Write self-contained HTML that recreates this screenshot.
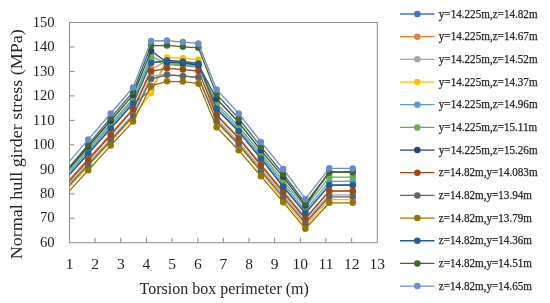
<!DOCTYPE html><html><head><meta charset="utf-8"><style>html,body{margin:0;padding:0;background:#fff;}body{width:550px;height:303px;overflow:hidden;}svg{display:block;}text{font-family:"Liberation Serif",serif;fill:#262626;}</style></head><body>
<svg width="550" height="303" viewBox="0 0 550 303">
<rect width="550" height="303" fill="#fff"/>
<defs><clipPath id="pc"><rect x="69.5" y="0" width="347.8" height="303"/></clipPath></defs>
<rect x="69.5" y="22.5" width="307.8" height="220.2" fill="none" stroke="#8C8C8C" stroke-width="1"/>
<text x="54.7" y="246.90" font-size="15.6" text-anchor="end" textLength="14.7" lengthAdjust="spacingAndGlyphs">60</text>
<line x1="69.5" y1="218.23" x2="74.5" y2="218.23" stroke="#8C8C8C" stroke-width="1"/>
<text x="54.7" y="222.43" font-size="15.6" text-anchor="end" textLength="14.7" lengthAdjust="spacingAndGlyphs">70</text>
<line x1="69.5" y1="193.77" x2="74.5" y2="193.77" stroke="#8C8C8C" stroke-width="1"/>
<text x="54.7" y="197.97" font-size="15.6" text-anchor="end" textLength="14.7" lengthAdjust="spacingAndGlyphs">80</text>
<line x1="69.5" y1="169.30" x2="74.5" y2="169.30" stroke="#8C8C8C" stroke-width="1"/>
<text x="54.7" y="173.50" font-size="15.6" text-anchor="end" textLength="14.7" lengthAdjust="spacingAndGlyphs">90</text>
<line x1="69.5" y1="144.83" x2="74.5" y2="144.83" stroke="#8C8C8C" stroke-width="1"/>
<text x="54.7" y="149.03" font-size="15.6" text-anchor="end" textLength="22.0" lengthAdjust="spacingAndGlyphs">100</text>
<line x1="69.5" y1="120.37" x2="74.5" y2="120.37" stroke="#8C8C8C" stroke-width="1"/>
<text x="54.7" y="124.57" font-size="15.6" text-anchor="end" textLength="22.0" lengthAdjust="spacingAndGlyphs">110</text>
<line x1="69.5" y1="95.90" x2="74.5" y2="95.90" stroke="#8C8C8C" stroke-width="1"/>
<text x="54.7" y="100.10" font-size="15.6" text-anchor="end" textLength="22.0" lengthAdjust="spacingAndGlyphs">120</text>
<line x1="69.5" y1="71.43" x2="74.5" y2="71.43" stroke="#8C8C8C" stroke-width="1"/>
<text x="54.7" y="75.63" font-size="15.6" text-anchor="end" textLength="22.0" lengthAdjust="spacingAndGlyphs">130</text>
<line x1="69.5" y1="46.97" x2="74.5" y2="46.97" stroke="#8C8C8C" stroke-width="1"/>
<text x="54.7" y="51.17" font-size="15.6" text-anchor="end" textLength="22.0" lengthAdjust="spacingAndGlyphs">140</text>
<text x="54.7" y="26.70" font-size="15.6" text-anchor="end" textLength="22.0" lengthAdjust="spacingAndGlyphs">150</text>
<text x="69.50" y="269.20" font-size="15.5" text-anchor="middle">1</text>
<line x1="95.15" y1="242.7" x2="95.15" y2="237.7" stroke="#8C8C8C" stroke-width="1"/>
<text x="95.15" y="269.20" font-size="15.5" text-anchor="middle">2</text>
<line x1="120.80" y1="242.7" x2="120.80" y2="237.7" stroke="#8C8C8C" stroke-width="1"/>
<text x="120.80" y="269.20" font-size="15.5" text-anchor="middle">3</text>
<line x1="146.45" y1="242.7" x2="146.45" y2="237.7" stroke="#8C8C8C" stroke-width="1"/>
<text x="146.45" y="269.20" font-size="15.5" text-anchor="middle">4</text>
<line x1="172.10" y1="242.7" x2="172.10" y2="237.7" stroke="#8C8C8C" stroke-width="1"/>
<text x="172.10" y="269.20" font-size="15.5" text-anchor="middle">5</text>
<line x1="197.75" y1="242.7" x2="197.75" y2="237.7" stroke="#8C8C8C" stroke-width="1"/>
<text x="197.75" y="269.20" font-size="15.5" text-anchor="middle">6</text>
<line x1="223.40" y1="242.7" x2="223.40" y2="237.7" stroke="#8C8C8C" stroke-width="1"/>
<text x="223.40" y="269.20" font-size="15.5" text-anchor="middle">7</text>
<line x1="249.05" y1="242.7" x2="249.05" y2="237.7" stroke="#8C8C8C" stroke-width="1"/>
<text x="249.05" y="269.20" font-size="15.5" text-anchor="middle">8</text>
<line x1="274.70" y1="242.7" x2="274.70" y2="237.7" stroke="#8C8C8C" stroke-width="1"/>
<text x="274.70" y="269.20" font-size="15.5" text-anchor="middle">9</text>
<line x1="300.35" y1="242.7" x2="300.35" y2="237.7" stroke="#8C8C8C" stroke-width="1"/>
<text x="300.35" y="269.20" font-size="15.5" text-anchor="middle">10</text>
<line x1="326.00" y1="242.7" x2="326.00" y2="237.7" stroke="#8C8C8C" stroke-width="1"/>
<text x="326.00" y="269.20" font-size="15.5" text-anchor="middle">11</text>
<line x1="351.65" y1="242.7" x2="351.65" y2="237.7" stroke="#8C8C8C" stroke-width="1"/>
<text x="351.65" y="269.20" font-size="15.5" text-anchor="middle">12</text>
<text x="377.30" y="269.20" font-size="15.5" text-anchor="middle">13</text>
<text x="139.6" y="293.5" font-size="16" textLength="169.3" lengthAdjust="spacingAndGlyphs">Torsion box perimeter (m)</text>
<text transform="translate(22.4,259.2) rotate(-90)" font-size="16" textLength="230" lengthAdjust="spacingAndGlyphs">Normal hull girder stress (MPa)</text>
<g clip-path="url(#pc)">
<polyline points="65.70,178.90 88.20,153.80 110.70,128.70 133.10,103.70 151.10,90.00 167.00,61.50 182.90,62.00 198.40,64.00 216.60,109.20 238.70,131.60 260.90,158.70 283.20,186.80 305.40,213.40 329.30,185.40 352.80,185.40" fill="none" stroke="#4472C4" stroke-width="1.3" stroke-linejoin="round"/>
<circle cx="88.20" cy="153.80" r="3.25" fill="#4472C4"/>
<circle cx="110.70" cy="128.70" r="3.25" fill="#4472C4"/>
<circle cx="133.10" cy="103.70" r="3.25" fill="#4472C4"/>
<circle cx="151.10" cy="90.00" r="3.25" fill="#4472C4"/>
<circle cx="167.00" cy="61.50" r="3.25" fill="#4472C4"/>
<circle cx="182.90" cy="62.00" r="3.25" fill="#4472C4"/>
<circle cx="198.40" cy="64.00" r="3.25" fill="#4472C4"/>
<circle cx="216.60" cy="109.20" r="3.25" fill="#4472C4"/>
<circle cx="238.70" cy="131.60" r="3.25" fill="#4472C4"/>
<circle cx="260.90" cy="158.70" r="3.25" fill="#4472C4"/>
<circle cx="283.20" cy="186.80" r="3.25" fill="#4472C4"/>
<circle cx="305.40" cy="213.40" r="3.25" fill="#4472C4"/>
<circle cx="329.30" cy="185.40" r="3.25" fill="#4472C4"/>
<circle cx="352.80" cy="185.40" r="3.25" fill="#4472C4"/>
<polyline points="65.70,183.60 88.20,158.80 110.70,134.00 133.10,108.50 151.10,69.00 167.00,61.00 182.90,61.80 198.40,63.60 216.60,114.50 238.70,137.50 260.90,164.20 283.20,191.00 305.40,218.00 329.30,190.80 352.80,190.80" fill="none" stroke="#ED7D31" stroke-width="1.3" stroke-linejoin="round"/>
<circle cx="88.20" cy="158.80" r="3.25" fill="#ED7D31"/>
<circle cx="110.70" cy="134.00" r="3.25" fill="#ED7D31"/>
<circle cx="133.10" cy="108.50" r="3.25" fill="#ED7D31"/>
<circle cx="151.10" cy="69.00" r="3.25" fill="#ED7D31"/>
<circle cx="167.00" cy="61.00" r="3.25" fill="#ED7D31"/>
<circle cx="182.90" cy="61.80" r="3.25" fill="#ED7D31"/>
<circle cx="198.40" cy="63.60" r="3.25" fill="#ED7D31"/>
<circle cx="216.60" cy="114.50" r="3.25" fill="#ED7D31"/>
<circle cx="238.70" cy="137.50" r="3.25" fill="#ED7D31"/>
<circle cx="260.90" cy="164.20" r="3.25" fill="#ED7D31"/>
<circle cx="283.20" cy="191.00" r="3.25" fill="#ED7D31"/>
<circle cx="305.40" cy="218.00" r="3.25" fill="#ED7D31"/>
<circle cx="329.30" cy="190.80" r="3.25" fill="#ED7D31"/>
<circle cx="352.80" cy="190.80" r="3.25" fill="#ED7D31"/>
<polyline points="65.70,187.60 88.20,163.30 110.70,139.00 133.10,114.40 151.10,76.00 167.00,74.40 182.90,75.80 198.40,77.10 216.60,119.00 238.70,142.00 260.90,168.50 283.20,195.00 305.40,221.50 329.30,194.80 352.80,194.80" fill="none" stroke="#A5A5A5" stroke-width="1.3" stroke-linejoin="round"/>
<circle cx="88.20" cy="163.30" r="3.25" fill="#A5A5A5"/>
<circle cx="110.70" cy="139.00" r="3.25" fill="#A5A5A5"/>
<circle cx="133.10" cy="114.40" r="3.25" fill="#A5A5A5"/>
<circle cx="151.10" cy="76.00" r="3.25" fill="#A5A5A5"/>
<circle cx="167.00" cy="74.40" r="3.25" fill="#A5A5A5"/>
<circle cx="182.90" cy="75.80" r="3.25" fill="#A5A5A5"/>
<circle cx="198.40" cy="77.10" r="3.25" fill="#A5A5A5"/>
<circle cx="216.60" cy="119.00" r="3.25" fill="#A5A5A5"/>
<circle cx="238.70" cy="142.00" r="3.25" fill="#A5A5A5"/>
<circle cx="260.90" cy="168.50" r="3.25" fill="#A5A5A5"/>
<circle cx="283.20" cy="195.00" r="3.25" fill="#A5A5A5"/>
<circle cx="305.40" cy="221.50" r="3.25" fill="#A5A5A5"/>
<circle cx="329.30" cy="194.80" r="3.25" fill="#A5A5A5"/>
<circle cx="352.80" cy="194.80" r="3.25" fill="#A5A5A5"/>
<polyline points="65.70,190.80 88.20,166.40 110.70,142.00 133.10,117.40 151.10,93.00 167.00,57.50 182.90,58.30 198.40,59.50 216.60,122.50 238.70,145.50 260.90,172.00 283.20,199.80 305.40,225.80 329.30,199.60 352.80,199.60" fill="none" stroke="#FFC000" stroke-width="1.3" stroke-linejoin="round"/>
<circle cx="88.20" cy="166.40" r="3.25" fill="#FFC000"/>
<circle cx="110.70" cy="142.00" r="3.25" fill="#FFC000"/>
<circle cx="133.10" cy="117.40" r="3.25" fill="#FFC000"/>
<circle cx="151.10" cy="93.00" r="3.25" fill="#FFC000"/>
<circle cx="167.00" cy="57.50" r="3.25" fill="#FFC000"/>
<circle cx="182.90" cy="58.30" r="3.25" fill="#FFC000"/>
<circle cx="198.40" cy="59.50" r="3.25" fill="#FFC000"/>
<circle cx="216.60" cy="122.50" r="3.25" fill="#FFC000"/>
<circle cx="238.70" cy="145.50" r="3.25" fill="#FFC000"/>
<circle cx="260.90" cy="172.00" r="3.25" fill="#FFC000"/>
<circle cx="283.20" cy="199.80" r="3.25" fill="#FFC000"/>
<circle cx="305.40" cy="225.80" r="3.25" fill="#FFC000"/>
<circle cx="329.30" cy="199.60" r="3.25" fill="#FFC000"/>
<circle cx="352.80" cy="199.60" r="3.25" fill="#FFC000"/>
<polyline points="65.70,176.00 88.20,151.00 110.70,126.00 133.10,101.00 151.10,59.90 167.00,64.80 182.90,65.50 198.40,67.30 216.60,106.00 238.70,129.00 260.90,156.00 283.20,183.50 305.40,210.50 329.30,181.30 352.80,181.20" fill="none" stroke="#5B9BD5" stroke-width="1.3" stroke-linejoin="round"/>
<circle cx="88.20" cy="151.00" r="3.25" fill="#5B9BD5"/>
<circle cx="110.70" cy="126.00" r="3.25" fill="#5B9BD5"/>
<circle cx="133.10" cy="101.00" r="3.25" fill="#5B9BD5"/>
<circle cx="151.10" cy="59.90" r="3.25" fill="#5B9BD5"/>
<circle cx="167.00" cy="64.80" r="3.25" fill="#5B9BD5"/>
<circle cx="182.90" cy="65.50" r="3.25" fill="#5B9BD5"/>
<circle cx="198.40" cy="67.30" r="3.25" fill="#5B9BD5"/>
<circle cx="216.60" cy="106.00" r="3.25" fill="#5B9BD5"/>
<circle cx="238.70" cy="129.00" r="3.25" fill="#5B9BD5"/>
<circle cx="260.90" cy="156.00" r="3.25" fill="#5B9BD5"/>
<circle cx="283.20" cy="183.50" r="3.25" fill="#5B9BD5"/>
<circle cx="305.40" cy="210.50" r="3.25" fill="#5B9BD5"/>
<circle cx="329.30" cy="181.30" r="3.25" fill="#5B9BD5"/>
<circle cx="352.80" cy="181.20" r="3.25" fill="#5B9BD5"/>
<polyline points="65.70,173.80 88.20,148.80 110.70,123.80 133.10,98.80 151.10,56.40 167.00,63.80 182.90,64.50 198.40,66.30 216.60,103.40 238.70,126.30 260.90,153.50 283.20,180.60 305.40,207.40 329.30,177.20 352.80,177.10" fill="none" stroke="#70AD47" stroke-width="1.3" stroke-linejoin="round"/>
<circle cx="88.20" cy="148.80" r="3.25" fill="#70AD47"/>
<circle cx="110.70" cy="123.80" r="3.25" fill="#70AD47"/>
<circle cx="133.10" cy="98.80" r="3.25" fill="#70AD47"/>
<circle cx="151.10" cy="56.40" r="3.25" fill="#70AD47"/>
<circle cx="167.00" cy="63.80" r="3.25" fill="#70AD47"/>
<circle cx="182.90" cy="64.50" r="3.25" fill="#70AD47"/>
<circle cx="198.40" cy="66.30" r="3.25" fill="#70AD47"/>
<circle cx="216.60" cy="103.40" r="3.25" fill="#70AD47"/>
<circle cx="238.70" cy="126.30" r="3.25" fill="#70AD47"/>
<circle cx="260.90" cy="153.50" r="3.25" fill="#70AD47"/>
<circle cx="283.20" cy="180.60" r="3.25" fill="#70AD47"/>
<circle cx="305.40" cy="207.40" r="3.25" fill="#70AD47"/>
<circle cx="329.30" cy="177.20" r="3.25" fill="#70AD47"/>
<circle cx="352.80" cy="177.10" r="3.25" fill="#70AD47"/>
<polyline points="65.70,172.20 88.20,146.50 110.70,120.80 133.10,94.90 151.10,51.00 167.00,62.30 182.90,63.20 198.40,65.00 216.60,98.80 238.70,122.30 260.90,150.30 283.20,176.80 305.40,205.50 329.30,172.00 352.80,172.00" fill="none" stroke="#264478" stroke-width="1.3" stroke-linejoin="round"/>
<circle cx="88.20" cy="146.50" r="3.25" fill="#264478"/>
<circle cx="110.70" cy="120.80" r="3.25" fill="#264478"/>
<circle cx="133.10" cy="94.90" r="3.25" fill="#264478"/>
<circle cx="151.10" cy="51.00" r="3.25" fill="#264478"/>
<circle cx="167.00" cy="62.30" r="3.25" fill="#264478"/>
<circle cx="182.90" cy="63.20" r="3.25" fill="#264478"/>
<circle cx="198.40" cy="65.00" r="3.25" fill="#264478"/>
<circle cx="216.60" cy="98.80" r="3.25" fill="#264478"/>
<circle cx="238.70" cy="122.30" r="3.25" fill="#264478"/>
<circle cx="260.90" cy="150.30" r="3.25" fill="#264478"/>
<circle cx="283.20" cy="176.80" r="3.25" fill="#264478"/>
<circle cx="305.40" cy="205.50" r="3.25" fill="#264478"/>
<circle cx="329.30" cy="172.00" r="3.25" fill="#264478"/>
<circle cx="352.80" cy="172.00" r="3.25" fill="#264478"/>
<polyline points="65.70,185.20 88.20,160.20 110.70,135.20 133.10,109.60 151.10,71.30 167.00,68.30 182.90,69.60 198.40,71.00 216.60,115.30 238.70,138.40 260.90,165.30 283.20,192.30 305.40,218.90 329.30,191.20 352.80,191.20" fill="none" stroke="#9E480E" stroke-width="1.3" stroke-linejoin="round"/>
<circle cx="88.20" cy="160.20" r="3.25" fill="#9E480E"/>
<circle cx="110.70" cy="135.20" r="3.25" fill="#9E480E"/>
<circle cx="133.10" cy="109.60" r="3.25" fill="#9E480E"/>
<circle cx="151.10" cy="71.30" r="3.25" fill="#9E480E"/>
<circle cx="167.00" cy="68.30" r="3.25" fill="#9E480E"/>
<circle cx="182.90" cy="69.60" r="3.25" fill="#9E480E"/>
<circle cx="198.40" cy="71.00" r="3.25" fill="#9E480E"/>
<circle cx="216.60" cy="115.30" r="3.25" fill="#9E480E"/>
<circle cx="238.70" cy="138.40" r="3.25" fill="#9E480E"/>
<circle cx="260.90" cy="165.30" r="3.25" fill="#9E480E"/>
<circle cx="283.20" cy="192.30" r="3.25" fill="#9E480E"/>
<circle cx="305.40" cy="218.90" r="3.25" fill="#9E480E"/>
<circle cx="329.30" cy="191.20" r="3.25" fill="#9E480E"/>
<circle cx="352.80" cy="191.20" r="3.25" fill="#9E480E"/>
<polyline points="65.70,189.20 88.20,164.90 110.70,140.60 133.10,116.00 151.10,79.00 167.00,74.80 182.90,76.20 198.40,77.60 216.60,121.30 238.70,144.30 260.90,170.80 283.20,197.30 305.40,223.30 329.30,196.80 352.80,196.80" fill="none" stroke="#636363" stroke-width="1.3" stroke-linejoin="round"/>
<circle cx="88.20" cy="164.90" r="3.25" fill="#636363"/>
<circle cx="110.70" cy="140.60" r="3.25" fill="#636363"/>
<circle cx="133.10" cy="116.00" r="3.25" fill="#636363"/>
<circle cx="151.10" cy="79.00" r="3.25" fill="#636363"/>
<circle cx="167.00" cy="74.80" r="3.25" fill="#636363"/>
<circle cx="182.90" cy="76.20" r="3.25" fill="#636363"/>
<circle cx="198.40" cy="77.60" r="3.25" fill="#636363"/>
<circle cx="216.60" cy="121.30" r="3.25" fill="#636363"/>
<circle cx="238.70" cy="144.30" r="3.25" fill="#636363"/>
<circle cx="260.90" cy="170.80" r="3.25" fill="#636363"/>
<circle cx="283.20" cy="197.30" r="3.25" fill="#636363"/>
<circle cx="305.40" cy="223.30" r="3.25" fill="#636363"/>
<circle cx="329.30" cy="196.80" r="3.25" fill="#636363"/>
<circle cx="352.80" cy="196.80" r="3.25" fill="#636363"/>
<polyline points="65.70,195.00 88.20,170.30 110.70,145.60 133.10,121.50 151.10,85.90 167.00,81.30 182.90,81.60 198.40,83.60 216.60,127.20 238.70,150.20 260.90,176.20 283.20,202.20 305.40,228.80 329.30,202.80 352.80,202.80" fill="none" stroke="#997300" stroke-width="1.3" stroke-linejoin="round"/>
<circle cx="88.20" cy="170.30" r="3.25" fill="#997300"/>
<circle cx="110.70" cy="145.60" r="3.25" fill="#997300"/>
<circle cx="133.10" cy="121.50" r="3.25" fill="#997300"/>
<circle cx="151.10" cy="85.90" r="3.25" fill="#997300"/>
<circle cx="167.00" cy="81.30" r="3.25" fill="#997300"/>
<circle cx="182.90" cy="81.60" r="3.25" fill="#997300"/>
<circle cx="198.40" cy="83.60" r="3.25" fill="#997300"/>
<circle cx="216.60" cy="127.20" r="3.25" fill="#997300"/>
<circle cx="238.70" cy="150.20" r="3.25" fill="#997300"/>
<circle cx="260.90" cy="176.20" r="3.25" fill="#997300"/>
<circle cx="283.20" cy="202.20" r="3.25" fill="#997300"/>
<circle cx="305.40" cy="228.80" r="3.25" fill="#997300"/>
<circle cx="329.30" cy="202.80" r="3.25" fill="#997300"/>
<circle cx="352.80" cy="202.80" r="3.25" fill="#997300"/>
<polyline points="65.70,178.60 88.20,153.50 110.70,128.40 133.10,103.40 151.10,63.10 167.00,60.50 182.90,61.40 198.40,63.40 216.60,108.90 238.70,131.30 260.90,158.40 283.20,186.50 305.40,213.10 329.30,185.00 352.80,185.00" fill="none" stroke="#255E91" stroke-width="1.3" stroke-linejoin="round"/>
<circle cx="88.20" cy="153.50" r="3.25" fill="#255E91"/>
<circle cx="110.70" cy="128.40" r="3.25" fill="#255E91"/>
<circle cx="133.10" cy="103.40" r="3.25" fill="#255E91"/>
<circle cx="151.10" cy="63.10" r="3.25" fill="#255E91"/>
<circle cx="167.00" cy="60.50" r="3.25" fill="#255E91"/>
<circle cx="182.90" cy="61.40" r="3.25" fill="#255E91"/>
<circle cx="198.40" cy="63.40" r="3.25" fill="#255E91"/>
<circle cx="216.60" cy="108.90" r="3.25" fill="#255E91"/>
<circle cx="238.70" cy="131.30" r="3.25" fill="#255E91"/>
<circle cx="260.90" cy="158.40" r="3.25" fill="#255E91"/>
<circle cx="283.20" cy="186.50" r="3.25" fill="#255E91"/>
<circle cx="305.40" cy="213.10" r="3.25" fill="#255E91"/>
<circle cx="329.30" cy="185.00" r="3.25" fill="#255E91"/>
<circle cx="352.80" cy="185.00" r="3.25" fill="#255E91"/>
<polyline points="65.70,171.50 88.20,144.70 110.70,117.90 133.10,91.90 151.10,45.60 167.00,45.40 182.90,46.80 198.40,47.80 216.60,94.40 238.70,118.40 260.90,146.80 283.20,173.80 305.40,203.30 329.30,172.40 352.80,172.20" fill="none" stroke="#43682B" stroke-width="1.3" stroke-linejoin="round"/>
<circle cx="88.20" cy="144.70" r="3.25" fill="#43682B"/>
<circle cx="110.70" cy="117.90" r="3.25" fill="#43682B"/>
<circle cx="133.10" cy="91.90" r="3.25" fill="#43682B"/>
<circle cx="151.10" cy="45.60" r="3.25" fill="#43682B"/>
<circle cx="167.00" cy="45.40" r="3.25" fill="#43682B"/>
<circle cx="182.90" cy="46.80" r="3.25" fill="#43682B"/>
<circle cx="198.40" cy="47.80" r="3.25" fill="#43682B"/>
<circle cx="216.60" cy="94.40" r="3.25" fill="#43682B"/>
<circle cx="238.70" cy="118.40" r="3.25" fill="#43682B"/>
<circle cx="260.90" cy="146.80" r="3.25" fill="#43682B"/>
<circle cx="283.20" cy="173.80" r="3.25" fill="#43682B"/>
<circle cx="305.40" cy="203.30" r="3.25" fill="#43682B"/>
<circle cx="329.30" cy="172.40" r="3.25" fill="#43682B"/>
<circle cx="352.80" cy="172.20" r="3.25" fill="#43682B"/>
<polyline points="65.70,165.70 88.20,139.60 110.70,113.50 133.10,87.50 151.10,40.90 167.00,40.60 182.90,42.10 198.40,43.40 216.60,89.40 238.70,113.40 260.90,141.90 283.20,168.90 305.40,198.90 329.30,168.30 352.80,168.40" fill="none" stroke="#698ED0" stroke-width="1.3" stroke-linejoin="round"/>
<circle cx="88.20" cy="139.60" r="3.25" fill="#698ED0"/>
<circle cx="110.70" cy="113.50" r="3.25" fill="#698ED0"/>
<circle cx="133.10" cy="87.50" r="3.25" fill="#698ED0"/>
<circle cx="151.10" cy="40.90" r="3.25" fill="#698ED0"/>
<circle cx="167.00" cy="40.60" r="3.25" fill="#698ED0"/>
<circle cx="182.90" cy="42.10" r="3.25" fill="#698ED0"/>
<circle cx="198.40" cy="43.40" r="3.25" fill="#698ED0"/>
<circle cx="216.60" cy="89.40" r="3.25" fill="#698ED0"/>
<circle cx="238.70" cy="113.40" r="3.25" fill="#698ED0"/>
<circle cx="260.90" cy="141.90" r="3.25" fill="#698ED0"/>
<circle cx="283.20" cy="168.90" r="3.25" fill="#698ED0"/>
<circle cx="305.40" cy="198.90" r="3.25" fill="#698ED0"/>
<circle cx="329.30" cy="168.30" r="3.25" fill="#698ED0"/>
<circle cx="352.80" cy="168.40" r="3.25" fill="#698ED0"/>
</g>
<line x1="399.9" y1="14.00" x2="434.5" y2="14.00" stroke="#4472C4" stroke-width="1.3"/>
<circle cx="417.3" cy="14.00" r="3.25" fill="#4472C4"/>
<text x="438.8" y="17.50" font-size="12.2" stroke="#262626" stroke-width="0.25" textLength="98.8" lengthAdjust="spacingAndGlyphs">y=14.225m,z=14.82m</text>
<line x1="399.9" y1="36.67" x2="434.5" y2="36.67" stroke="#ED7D31" stroke-width="1.3"/>
<circle cx="417.3" cy="36.67" r="3.25" fill="#ED7D31"/>
<text x="438.8" y="40.17" font-size="12.2" stroke="#262626" stroke-width="0.25" textLength="98.8" lengthAdjust="spacingAndGlyphs">y=14.225m,z=14.67m</text>
<line x1="399.9" y1="59.35" x2="434.5" y2="59.35" stroke="#A5A5A5" stroke-width="1.3"/>
<circle cx="417.3" cy="59.35" r="3.25" fill="#A5A5A5"/>
<text x="438.8" y="62.85" font-size="12.2" stroke="#262626" stroke-width="0.25" textLength="98.8" lengthAdjust="spacingAndGlyphs">y=14.225m,z=14.52m</text>
<line x1="399.9" y1="82.03" x2="434.5" y2="82.03" stroke="#FFC000" stroke-width="1.3"/>
<circle cx="417.3" cy="82.03" r="3.25" fill="#FFC000"/>
<text x="438.8" y="85.53" font-size="12.2" stroke="#262626" stroke-width="0.25" textLength="98.8" lengthAdjust="spacingAndGlyphs">y=14.225m,z=14.37m</text>
<line x1="399.9" y1="104.70" x2="434.5" y2="104.70" stroke="#5B9BD5" stroke-width="1.3"/>
<circle cx="417.3" cy="104.70" r="3.25" fill="#5B9BD5"/>
<text x="438.8" y="108.20" font-size="12.2" stroke="#262626" stroke-width="0.25" textLength="98.8" lengthAdjust="spacingAndGlyphs">y=14.225m,z=14.96m</text>
<line x1="399.9" y1="127.38" x2="434.5" y2="127.38" stroke="#70AD47" stroke-width="1.3"/>
<circle cx="417.3" cy="127.38" r="3.25" fill="#70AD47"/>
<text x="438.8" y="130.88" font-size="12.2" stroke="#262626" stroke-width="0.25" textLength="98.4" lengthAdjust="spacingAndGlyphs">y=14.225m,z=15.11m</text>
<line x1="399.9" y1="150.05" x2="434.5" y2="150.05" stroke="#264478" stroke-width="1.3"/>
<circle cx="417.3" cy="150.05" r="3.25" fill="#264478"/>
<text x="438.8" y="153.55" font-size="12.2" stroke="#262626" stroke-width="0.25" textLength="98.8" lengthAdjust="spacingAndGlyphs">y=14.225m,z=15.26m</text>
<line x1="399.9" y1="172.72" x2="434.5" y2="172.72" stroke="#9E480E" stroke-width="1.3"/>
<circle cx="417.3" cy="172.72" r="3.25" fill="#9E480E"/>
<text x="438.8" y="176.22" font-size="12.2" stroke="#262626" stroke-width="0.25" textLength="98.8" lengthAdjust="spacingAndGlyphs">z=14.82m,y=14.083m</text>
<line x1="399.9" y1="195.40" x2="434.5" y2="195.40" stroke="#636363" stroke-width="1.3"/>
<circle cx="417.3" cy="195.40" r="3.25" fill="#636363"/>
<text x="438.8" y="198.90" font-size="12.2" stroke="#262626" stroke-width="0.25" textLength="93.2" lengthAdjust="spacingAndGlyphs">z=14.82m,y=13.94m</text>
<line x1="399.9" y1="218.08" x2="434.5" y2="218.08" stroke="#997300" stroke-width="1.3"/>
<circle cx="417.3" cy="218.08" r="3.25" fill="#997300"/>
<text x="438.8" y="221.58" font-size="12.2" stroke="#262626" stroke-width="0.25" textLength="93.2" lengthAdjust="spacingAndGlyphs">z=14.82m,y=13.79m</text>
<line x1="399.9" y1="240.75" x2="434.5" y2="240.75" stroke="#255E91" stroke-width="1.3"/>
<circle cx="417.3" cy="240.75" r="3.25" fill="#255E91"/>
<text x="438.8" y="244.25" font-size="12.2" stroke="#262626" stroke-width="0.25" textLength="93.2" lengthAdjust="spacingAndGlyphs">z=14.82m,y=14.36m</text>
<line x1="399.9" y1="263.43" x2="434.5" y2="263.43" stroke="#43682B" stroke-width="1.3"/>
<circle cx="417.3" cy="263.43" r="3.25" fill="#43682B"/>
<text x="438.8" y="266.93" font-size="12.2" stroke="#262626" stroke-width="0.25" textLength="93.2" lengthAdjust="spacingAndGlyphs">z=14.82m,y=14.51m</text>
<line x1="399.9" y1="286.10" x2="434.5" y2="286.10" stroke="#698ED0" stroke-width="1.3"/>
<circle cx="417.3" cy="286.10" r="3.25" fill="#698ED0"/>
<text x="438.8" y="289.60" font-size="12.2" stroke="#262626" stroke-width="0.25" textLength="93.2" lengthAdjust="spacingAndGlyphs">z=14.82m,y=14.65m</text>
</svg></body></html>
